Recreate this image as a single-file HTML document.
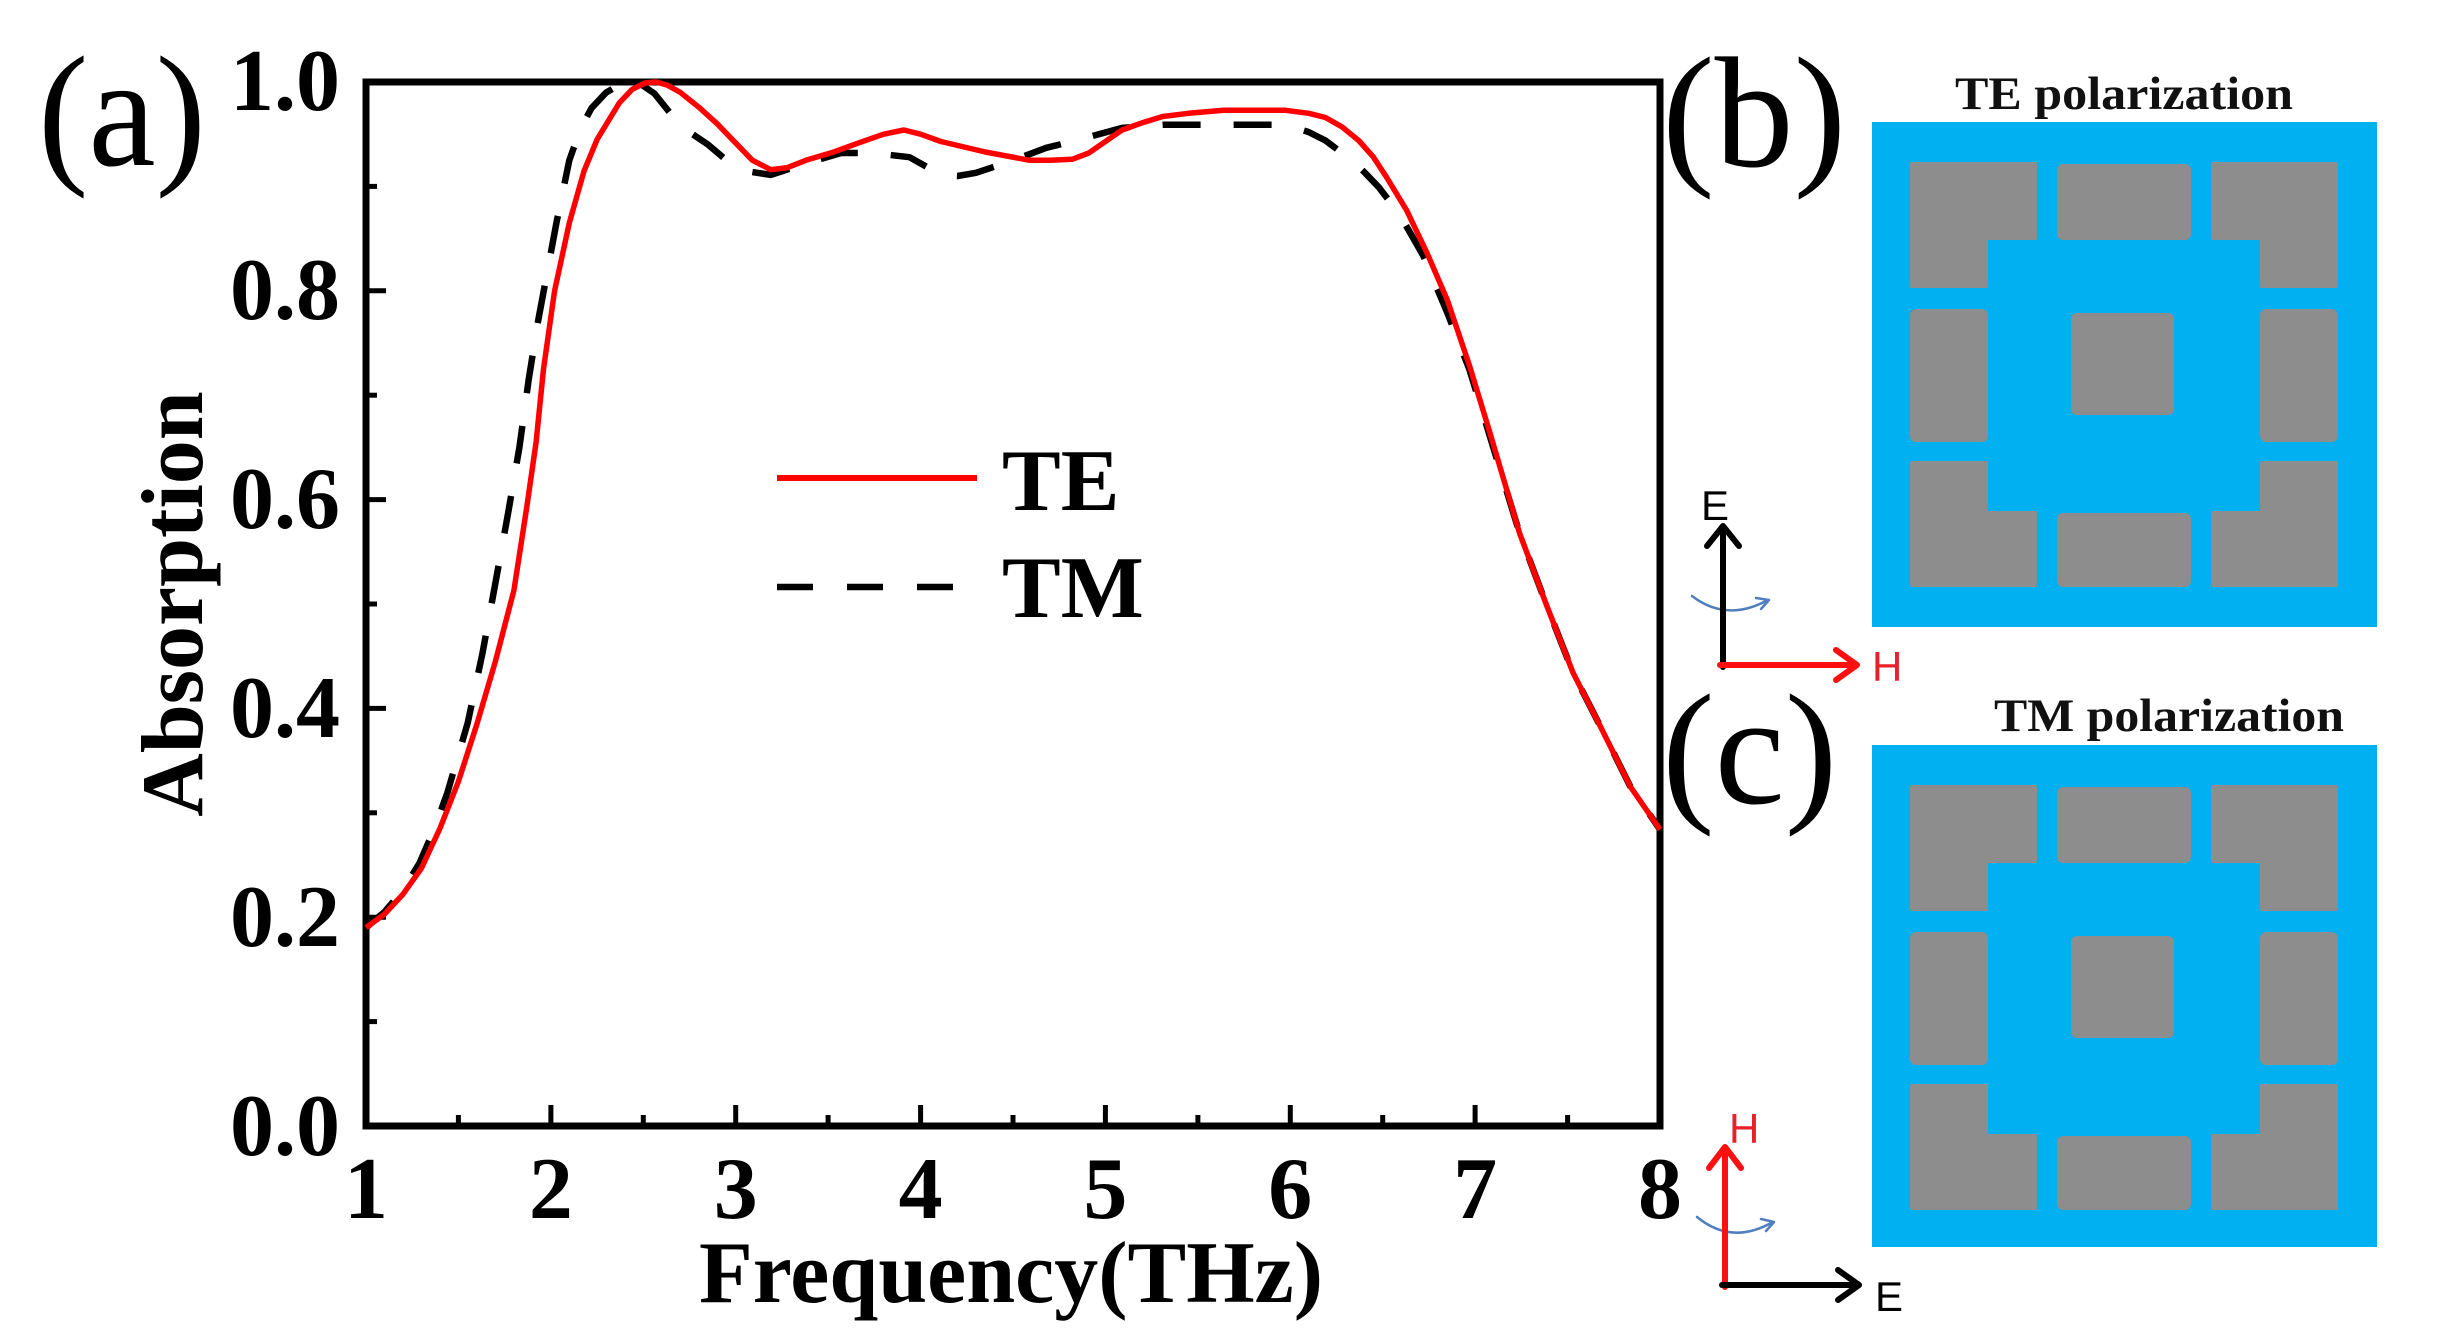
<!DOCTYPE html>
<html>
<head>
<meta charset="utf-8">
<style>
  html, body { margin: 0; padding: 0; background: #ffffff; }
  svg { display: block; }
  .tick { font-family: "Liberation Serif", serif; font-weight: bold; font-size: 88px; fill: #000; }
  .lab { font-family: "Liberation Serif", serif; font-size: 158px; fill: #000; }
  .pol { font-family: "Liberation Serif", serif; font-weight: bold; font-size: 47px; fill: #111; }
  .ax { font-family: "Liberation Sans", sans-serif; font-size: 42px; }
</style>
</head>
<body>
<svg width="2447" height="1344" viewBox="0 0 2447 1344" xmlns="http://www.w3.org/2000/svg">
  <rect x="0" y="0" width="2447" height="1344" fill="#ffffff"/>

  <!-- Panel label (a) -->
  <text class="lab" x="38" y="165" textLength="168" lengthAdjust="spacingAndGlyphs">(a)</text>

  <!-- Ticks (inward) -->
  <g stroke="#000" stroke-width="5" fill="none">
    <line x1="366" y1="1126" x2="386" y2="1126"/>
    <line x1="366" y1="917.2" x2="386" y2="917.2"/>
    <line x1="366" y1="708.4" x2="386" y2="708.4"/>
    <line x1="366" y1="499.6" x2="386" y2="499.6"/>
    <line x1="366" y1="290.8" x2="386" y2="290.8"/>
    <line x1="366" y1="1021.6" x2="377" y2="1021.6"/>
    <line x1="366" y1="812.8" x2="377" y2="812.8"/>
    <line x1="366" y1="604" x2="377" y2="604"/>
    <line x1="366" y1="395.2" x2="377" y2="395.2"/>
    <line x1="366" y1="186.4" x2="377" y2="186.4"/>
    <line x1="550.9" y1="1126" x2="550.9" y2="1105"/>
    <line x1="735.7" y1="1126" x2="735.7" y2="1105"/>
    <line x1="920.6" y1="1126" x2="920.6" y2="1105"/>
    <line x1="1105.4" y1="1126" x2="1105.4" y2="1105"/>
    <line x1="1290.3" y1="1126" x2="1290.3" y2="1105"/>
    <line x1="1475.1" y1="1126" x2="1475.1" y2="1105"/>
    <line x1="458.4" y1="1126" x2="458.4" y2="1115"/>
    <line x1="643.3" y1="1126" x2="643.3" y2="1115"/>
    <line x1="828.1" y1="1126" x2="828.1" y2="1115"/>
    <line x1="1013" y1="1126" x2="1013" y2="1115"/>
    <line x1="1197.9" y1="1126" x2="1197.9" y2="1115"/>
    <line x1="1382.7" y1="1126" x2="1382.7" y2="1115"/>
    <line x1="1567.6" y1="1126" x2="1567.6" y2="1115"/>
  </g>

  <!-- Frame -->
  <rect x="366" y="82" width="1294" height="1044" fill="none" stroke="#000" stroke-width="7"/>

  <!-- Y tick labels -->
  <g class="tick" text-anchor="end">
    <text x="340" y="1155">0.0</text>
    <text x="340" y="946">0.2</text>
    <text x="340" y="737">0.4</text>
    <text x="340" y="528">0.6</text>
    <text x="340" y="319">0.8</text>
    <text x="340" y="110">1.0</text>
  </g>

  <!-- X tick labels -->
  <g class="tick" text-anchor="middle">
    <text x="366" y="1218">1</text>
    <text x="550.9" y="1218">2</text>
    <text x="735.7" y="1218">3</text>
    <text x="920.6" y="1218">4</text>
    <text x="1105.4" y="1218">5</text>
    <text x="1290.3" y="1218">6</text>
    <text x="1475.1" y="1218">7</text>
    <text x="1660" y="1218">8</text>
  </g>

  <!-- Axis titles -->
  <text class="tick" x="1011" y="1302" text-anchor="middle">Frequency(THz)</text>
  <text class="tick" transform="translate(202,604) rotate(-90)" text-anchor="middle">Absorption</text>

  <!-- TM dashed curve -->
  <polyline fill="none" stroke="#000" stroke-width="6.5" stroke-dasharray="38 33" stroke-linejoin="round"
    points="366,927.6 384.5,912 403,890.1 419.6,862.9 434.4,828.5 447.3,793 467.7,723 482.5,653.1 495.4,583.1 508.3,512.1 519.4,447.4 528.7,379.5 537.9,322.1 556.4,223 569.3,160.3 580.4,129 591.5,108.1 606.3,92.4 623,83 637.7,82 654.4,93.5 672.9,116.5 689.5,132.1 708,144.6 730.2,163.4 750.5,171.8 770.8,174.9 805.9,163.4 841.1,153 872.5,153 909.5,157.2 924.3,165.5 940.9,174.9 957.5,176 976,172.8 1007.5,162.4 1046.3,147.8 1072.2,141.5 1122.1,127.9 1162.7,124.8 1203.4,124.8 1273.6,124.8 1292.1,126.9 1308.8,132.1 1325.4,140.5 1349.4,158.5 1364.2,172 1379,187.5 1399.4,214 1423.4,256 1447.4,313 1469.6,370 1491,440 1519.5,533 1547.3,607.1 1573.1,672.9 1600.8,727.2 1630.4,786.7 1660,829.5"/>

  <!-- TE solid curve -->
  <polyline fill="none" stroke="#ff0000" stroke-width="5.5" stroke-linejoin="round"
    points="366,927.6 384.5,914.1 403,894.2 421.5,868.1 439.9,828.5 458.4,781.5 476.9,724.1 495.4,661.4 513.9,590.4 526.8,506.9 536.1,442.2 543.5,369.1 554.6,290.8 569.3,223 584.1,170.8 597.1,139.4 619.3,102.9 632.2,89.3 645.1,83 656.2,82 667.3,85.1 680.3,92.4 698.7,107.1 717.2,123.8 730.2,137.3 752.4,160.3 770.8,169.7 787.5,167.6 805.9,160.3 833.7,152 859.6,142.6 883.6,134.2 903.9,130 920.6,134.2 940.9,141.5 985.3,152 1029.6,160.3 1050,160.3 1072.2,159.3 1088.8,153 1105.4,141.5 1122.1,130 1142.4,122.7 1162.7,116.5 1188.6,113.3 1223.7,110.2 1284.7,110.2 1308.8,113.3 1325.4,117.5 1342,126.9 1358.7,140.5 1373.5,157.2 1386.4,177 1406.7,210.4 1427.1,253.2 1447.4,300.2 1469.6,366 1489.9,432.8 1519.5,533 1547.3,607.1 1573.1,672.9 1600.8,727.2 1630.4,786.7 1660,829.5"/>

  <!-- Legend -->
  <line x1="777" y1="478" x2="977" y2="478" stroke="#ff0000" stroke-width="6"/>
  <text class="tick" x="1002" y="510">TE</text>
  <line x1="777" y1="587" x2="956" y2="587" stroke="#000" stroke-width="6.5" stroke-dasharray="36 34"/>
  <text class="tick" x="1002" y="617">TM</text>

  <!-- ===== Panel (b) ===== -->
  <text class="lab" x="1662" y="166">(b)</text>
  <text class="pol" x="2124" y="109" text-anchor="middle" textLength="338" lengthAdjust="spacingAndGlyphs">TE polarization</text>
  <rect x="1872" y="122" width="505" height="505" fill="#00b0f0"/>
  <g fill="#8d8d8d" stroke="#8d8d8d" stroke-width="4" stroke-linejoin="round">
    <path d="M1912,164 H2035 V238 H1986 V286 H1912 Z"/>
    <rect x="2059" y="166" width="130" height="72" rx="4"/>
    <path d="M2213,164 H2336 V286 H2262 V238 H2213 Z"/>
    <rect x="1912" y="311" width="74" height="129" rx="4"/>
    <rect x="2262" y="311" width="74" height="129" rx="4"/>
    <rect x="2073" y="315" width="99" height="98" rx="4"/>
    <path d="M1912,463 H1986 V513 H2035 V585 H1912 Z"/>
    <rect x="2059" y="515" width="130" height="70" rx="4"/>
    <path d="M2262,463 H2336 V585 H2213 V513 H2262 Z"/>
  </g>

  <!-- (b) axis arrows -->
  <g fill="none" stroke-linecap="round" stroke-linejoin="round">
    <path d="M1692,596 Q1726,622 1766,601" stroke="#4f7fbf" stroke-width="2.5"/>
    <path d="M1756,598 L1769,600 L1761,609" stroke="#4f7fbf" stroke-width="2.5"/>
    <line x1="1723" y1="667" x2="1723" y2="528" stroke="#000" stroke-width="6"/>
    <polyline points="1707,546 1723,526 1739,546" stroke="#000" stroke-width="6"/>
    <line x1="1720" y1="665" x2="1854" y2="665" stroke="#ff1010" stroke-width="6"/>
    <polyline points="1836,650 1857,665 1836,680" stroke="#ff1010" stroke-width="6"/>
  </g>
  <text class="ax" x="1701" y="520" fill="#000">E</text>
  <text class="ax" x="1872" y="681" fill="#e8202a">H</text>

  <!-- ===== Panel (c) ===== -->
  <text class="lab" x="1662" y="803">(c)</text>
  <text class="pol" x="2169" y="731" text-anchor="middle" textLength="350" lengthAdjust="spacingAndGlyphs">TM polarization</text>
  <rect x="1872" y="745" width="505" height="502" fill="#00b0f0"/>
  <g fill="#8d8d8d" stroke="#8d8d8d" stroke-width="4" stroke-linejoin="round" transform="translate(0,623)">
    <path d="M1912,164 H2035 V238 H1986 V286 H1912 Z"/>
    <rect x="2059" y="166" width="130" height="72" rx="4"/>
    <path d="M2213,164 H2336 V286 H2262 V238 H2213 Z"/>
    <rect x="1912" y="311" width="74" height="129" rx="4"/>
    <rect x="2262" y="311" width="74" height="129" rx="4"/>
    <rect x="2073" y="315" width="99" height="98" rx="4"/>
    <path d="M1912,463 H1986 V513 H2035 V585 H1912 Z"/>
    <rect x="2059" y="515" width="130" height="70" rx="4"/>
    <path d="M2262,463 H2336 V585 H2213 V513 H2262 Z"/>
  </g>

  <!-- (c) axis arrows -->
  <g fill="none" stroke-linecap="round" stroke-linejoin="round">
    <path d="M1697,1217 Q1731,1245 1771,1223" stroke="#4f7fbf" stroke-width="2.5"/>
    <path d="M1761,1219 L1774,1222 L1766,1231" stroke="#4f7fbf" stroke-width="2.5"/>
    <line x1="1725" y1="1287" x2="1725" y2="1150" stroke="#ff1010" stroke-width="6"/>
    <polyline points="1709,1168 1725,1147 1741,1168" stroke="#ff1010" stroke-width="6"/>
    <line x1="1722" y1="1285" x2="1856" y2="1285" stroke="#000" stroke-width="6"/>
    <polyline points="1838,1270 1859,1285 1838,1300" stroke="#000" stroke-width="6"/>
  </g>
  <text class="ax" x="1729" y="1143" fill="#e8202a">H</text>
  <text class="ax" x="1875" y="1311" fill="#000">E</text>
</svg>
</body>
</html>
